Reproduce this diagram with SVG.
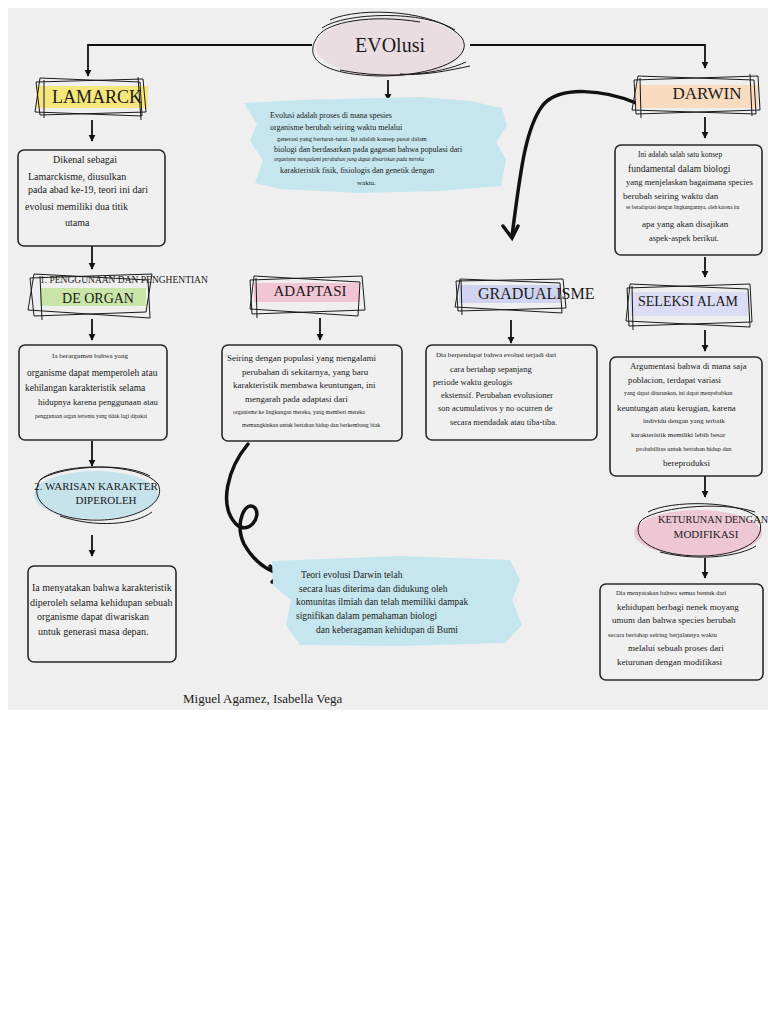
<svg xmlns="http://www.w3.org/2000/svg" width="768" height="1024" viewBox="0 0 768 1024">
<defs>
<style>
text{font-family:"Liberation Serif","DejaVu Serif",serif;fill:#1a1a1a}
.box{fill:#f0f0f0;stroke:#2a2a2a;stroke-width:1.6}
.sk{fill:none;stroke:#1a1a1a;stroke-width:1}
.ln{fill:none;stroke:#111;stroke-width:1.8}
.curl{fill:none;stroke:#111;stroke-width:3.5;stroke-linecap:round}
.t{font-size:10px}
</style>
<marker id="a" viewBox="0 0 10 10" refX="9" refY="5" markerWidth="4" markerHeight="4" orient="auto">
<path d="M0,0 L10,5 L0,10 Z" fill="#111"/>
</marker>
</defs>
<rect x="0" y="0" width="768" height="1024" fill="#ffffff"/>
<rect x="8" y="8" width="760" height="702" fill="#efefef"/>

<g id="connectors">
<path class="ln" d="M312,45 L88,45 L88,76" marker-end="url(#a)"/>
<path class="ln" d="M470,45 L705,45 L705,68" marker-end="url(#a)"/>
<path class="ln" d="M388,80 L388,100" marker-end="url(#a)"/>
<path class="ln" d="M92,120 L92,141" marker-end="url(#a)"/>
<path class="ln" d="M92,246 L92,269" marker-end="url(#a)"/>
<path class="ln" d="M92,319 L92,340" marker-end="url(#a)"/>
<path class="ln" d="M92,441 L92,466" marker-end="url(#a)"/>
<path class="ln" d="M92,535 L92,556" marker-end="url(#a)"/>
<path class="ln" d="M320,318 L320,340" marker-end="url(#a)"/>
<path class="ln" d="M511,320 L511,343" marker-end="url(#a)"/>
<path class="ln" d="M705,117 L705,138" marker-end="url(#a)"/>
<path class="ln" d="M705,257 L705,277" marker-end="url(#a)"/>
<path class="ln" d="M705,330 L705,351" marker-end="url(#a)"/>
<path class="ln" d="M705,476 L705,497" marker-end="url(#a)"/>
<path class="ln" d="M705,558 L705,578" marker-end="url(#a)"/>
<path class="curl" stroke-width="4" d="M636,103 C605,90 560,85 543,105 C525,128 520,175 512,236"/>
<path class="curl" d="M503,226 L512,238 L518,226"/>
<path class="curl" stroke-width="2.5" d="M248,444 C228,468 218,505 236,524 C248,536 262,517 255,508 C246,499 234,522 244,544 C254,562 266,570 280,574"/>
<path class="curl" stroke-width="3" d="M270,566 L281,575 L272,582"/>
</g>

<g id="evolusi">
<ellipse cx="390" cy="47" rx="74" ry="30" fill="#eadde2"/>
<path class="sk" d="M330,20 C360,6 440,10 462,38 C475,60 430,76 380,76 C330,75 300,62 318,36 C328,22 370,14 420,22"/>
<path class="sk" d="M322,28 C345,12 425,10 455,30 M340,70 C390,80 440,74 466,62 M400,74 C425,76 450,70 470,66"/>
<text x="390" y="52" font-size="20" text-anchor="middle">EVOlusi</text>
</g>

<g id="evolusi-desc">
<path d="M244,103 L300,100 L420,97 L470,101 L502,108 L507,126 L496,142 L506,160 L501,186 L440,191 L360,193 L280,189 L255,183 L263,160 L250,141 L257,124 Z" fill="#c5e6ee"/>
<text x="270" y="118" font-size="8">Evolusi adalah proses di mana spesies</text>
<text x="270" y="130" font-size="8">organisme berubah seiring waktu melalui</text>
<text x="277" y="141" font-size="6.3">generasi yang berturut-turut. Ini adalah konsep pusat dalam</text>
<text x="274" y="152" font-size="8">biologi dan berdasarkan pada gagasan bahwa populasi dari</text>
<text x="274" y="161" font-size="5.3" font-style="italic">organisme mengalami perubahan yang dapat diwariskan pada mereka</text>
<text x="280" y="173" font-size="8">karakteristik fisik, fisiologis dan genetik dengan</text>
<text x="357" y="185" font-size="7">waktu.</text>
</g>

<g id="lamarck">
<rect x="36" y="86" width="112" height="22" fill="#f6e77c"/>
<path class="sk" d="M36,82 L143,79 L146,112 L40,115 Z M40,78 L140,82 L142,116 L35,112 Z M44,80 L44,118 M138,77 L141,120"/>
<text x="97" y="103" font-size="18" text-anchor="middle">LAMARCK</text>
</g>

<g id="lamarck-desc">
<rect class="box" x="18" y="150" width="147" height="96" rx="6"/>
<text x="85" y="163" class="t" text-anchor="middle">Dikenal sebagai</text>
<text x="28" y="180" class="t">Lamarckisme, diusulkan</text>
<text x="28" y="193" class="t">pada abad ke-19, teori ini dari</text>
<text x="25" y="210" class="t">evolusi memiliki dua titik</text>
<text x="65" y="226" class="t">utama</text>
</g>

<g id="penggunaan">
<rect x="40" y="288" width="106" height="18" fill="#c9e6a8"/>
<path class="sk" d="M30,278 L152,274 L146,312 L34,316 Z M34,274 L148,280 L150,318 L28,310 Z M40,276 L42,320"/>
<text x="40" y="283" font-size="9.5">1. PENGGUNAAN  DAN  PENGHENTIAN</text>
<text x="98" y="303" font-size="14" text-anchor="middle">DE ORGAN</text>
</g>

<g id="penggunaan-desc">
<rect class="box" x="19" y="345" width="148" height="95" rx="6"/>
<text x="90" y="358" font-size="7" text-anchor="middle">Ia berargumen bahwa yang</text>
<text x="27" y="376" font-size="9.5">organisme dapat memperoleh atau</text>
<text x="25" y="391" font-size="9.5">kehilangan karakteristik selama</text>
<text x="38" y="405" font-size="8.8">hidupnya karena penggunaan atau</text>
<text x="35" y="418" font-size="5.6">penggunaan organ tertentu yang tidak lagi dipakai</text>
</g>

<g id="warisan">
<ellipse cx="96" cy="495" rx="62" ry="24" fill="#c6e3ec"/>
<path class="sk" d="M40,480 C60,462 140,462 158,484 C168,505 130,522 90,520 C50,518 28,500 40,480 C55,468 120,460 150,476"/>
<path class="sk" d="M60,516 C95,528 135,525 152,512"/>
<text x="96" y="490" font-size="11" text-anchor="middle">2. WARISAN KARAKTER</text>
<text x="106" y="504" font-size="11" text-anchor="middle">DIPEROLEH</text>
</g>

<g id="warisan-desc">
<rect class="box" x="28" y="566" width="148" height="96" rx="6"/>
<text x="32" y="591" class="t">Ia menyatakan bahwa karakteristik</text>
<text x="30" y="606" class="t">diperoleh selama kehidupan sebuah</text>
<text x="37" y="620" class="t">organisme dapat diwariskan</text>
<text x="38" y="635" class="t">untuk generasi masa depan.</text>
</g>

<g id="adaptasi">
<rect x="254" y="283" width="106" height="19" fill="#f1c5d4"/>
<path class="sk" d="M250,280 L362,276 L365,310 L252,314 Z M254,276 L360,282 L358,316 L250,309 Z M256,278 L257,318"/>
<text x="310" y="296" font-size="15" text-anchor="middle">ADAPTASI</text>
</g>

<g id="adaptasi-desc">
<rect class="box" x="222" y="345" width="180" height="96" rx="6"/>
<text x="227" y="361" font-size="9">Seiring dengan populasi yang mengalami</text>
<text x="242" y="375" font-size="9">perubahan di sekitarnya, yang baru</text>
<text x="233" y="388" font-size="9">karakteristik membawa keuntungan, ini</text>
<text x="245" y="402" font-size="9">mengarah pada adaptasi dari</text>
<text x="233" y="414" font-size="5.8">organisme ke lingkungan mereka, yang memberi mereka</text>
<text x="242" y="427" font-size="5.8">memungkinkan untuk bertahan hidup dan berkembang biak</text>
</g>

<g id="gradualisme">
<rect x="459" y="285" width="102" height="18" fill="#d0d4f0"/>
<path class="sk" d="M456,281 L563,279 L566,308 L458,311 Z M460,279 L560,283 L562,313 L455,307 Z M461,280 L462,315"/>
<text x="478" y="299" font-size="16">GRADUALISME</text>
</g>

<g id="gradualisme-desc">
<rect class="box" x="426" y="345" width="171" height="95" rx="6"/>
<text x="436" y="357" font-size="7">Dia berpendapat bahwa evolusi terjadi dari</text>
<text x="450" y="372" font-size="8.5">cara bertahap sepanjang</text>
<text x="433" y="385" font-size="8.5">periode waktu geologis</text>
<text x="441" y="398" font-size="8.5">ekstensif. Perubahan evolusioner</text>
<text x="438" y="411" font-size="8.5">son acumulativos y no ocurren de</text>
<text x="450" y="425" font-size="8.5">secara mendadak atau tiba-tiba.</text>
</g>

<g id="darwin">
<rect x="636" y="85" width="122" height="23" fill="#f9dcc0"/>
<path class="sk" d="M634,80 L758,76 L760,110 L636,114 Z M638,76 L754,80 L756,114 L632,110 Z M640,78 L641,118 M750,74 L752,116"/>
<text x="707" y="99" font-size="17" text-anchor="middle">DARWIN</text>
</g>

<g id="darwin-desc">
<rect class="box" x="615" y="145" width="147" height="110" rx="6"/>
<text x="638" y="157" font-size="7.5">Ini adalah salah satu konsep</text>
<text x="628" y="172" font-size="9.5">fundamental dalam biologi</text>
<text x="626" y="185" font-size="8.5">yang menjelaskan bagaimana species</text>
<text x="623" y="199" font-size="9">berubah seiring waktu dan</text>
<text x="626" y="209" font-size="5.3">se beradaptasi dengan lingkungannya, oleh karena itu</text>
<text x="642" y="227" font-size="9">apa yang akan disajikan</text>
<text x="649" y="241" font-size="8.5">aspek-aspek berikut.</text>
</g>

<g id="seleksi">
<rect x="630" y="292" width="118" height="24" fill="#dcdcf4"/>
<path class="sk" d="M627,288 L750,284 L752,322 L629,326 Z M630,284 L748,289 L750,327 L626,321 Z M632,286 L633,330"/>
<text x="688" y="306" font-size="14" text-anchor="middle">SELEKSI ALAM</text>
</g>

<g id="seleksi-desc">
<rect class="box" x="610" y="357" width="152" height="119" rx="6"/>
<text x="630" y="369" font-size="8.8">Argumentasi bahwa di mana saja</text>
<text x="628" y="383" font-size="8.8">poblacion, terdapat variasi</text>
<text x="624" y="395" font-size="5.8">yang dapat diturunkan, ini dapat menyebabkan</text>
<text x="617" y="411" font-size="8.8">keuntungan atau kerugian, karena</text>
<text x="643" y="423" font-size="7">individu dengan yang terbaik</text>
<text x="631" y="437" font-size="7">karakteristik memiliki lebih besar</text>
<text x="636" y="451" font-size="6.3">probabilitas untuk bertahan hidup dan</text>
<text x="663" y="466" font-size="9">bereproduksi</text>
</g>

<g id="keturunan">
<ellipse cx="698" cy="533" rx="64" ry="23" fill="#eec7d5"/>
<path class="sk" d="M648,512 C670,500 740,500 758,518 C770,540 740,556 700,556 C660,556 630,542 640,522 C650,508 720,500 755,512"/>
<path class="sk" d="M660,552 C700,562 740,556 756,546"/>
<text x="658" y="523" font-size="10.3">KETURUNAN DENGAN</text>
<text x="706" y="538" font-size="11" text-anchor="middle">MODIFIKASI</text>
</g>

<g id="keturunan-desc">
<rect class="box" x="600" y="584" width="163" height="96" rx="6"/>
<text x="616" y="595" font-size="6.5">Dia menyatakan bahwa semua bentuk dari</text>
<text x="617" y="610" font-size="9">kehidupan berbagi nenek moyang</text>
<text x="612" y="623" font-size="9">umum dan bahwa species berubah</text>
<text x="608" y="637" font-size="6.5">secara bertahap seiring berjalannya waktu</text>
<text x="628" y="651" font-size="9">melalui sebuah proses dari</text>
<text x="617" y="665" font-size="9">keturunan dengan modifikasi</text>
</g>

<g id="teori">
<path d="M272,561 L400,556 L510,560 L520,580 L512,600 L522,625 L505,643 L400,646 L300,645 L286,625 L291,600 L273,585 Z" fill="#c5e6ee"/>
<text x="301" y="578" font-size="9.5">Teori evolusi Darwin telah</text>
<text x="299" y="592" font-size="9.5">secara luas diterima dan didukung oleh</text>
<text x="296" y="605" font-size="9.5">komunitas ilmiah dan telah memiliki dampak</text>
<text x="296" y="619" font-size="9.5">signifikan dalam pemahaman biologi</text>
<text x="316" y="633" font-size="9.5">dan keberagaman kehidupan di Bumi</text>
</g>

<text x="183" y="703" font-size="13">Miguel Agamez, Isabella Vega</text>
</svg>
